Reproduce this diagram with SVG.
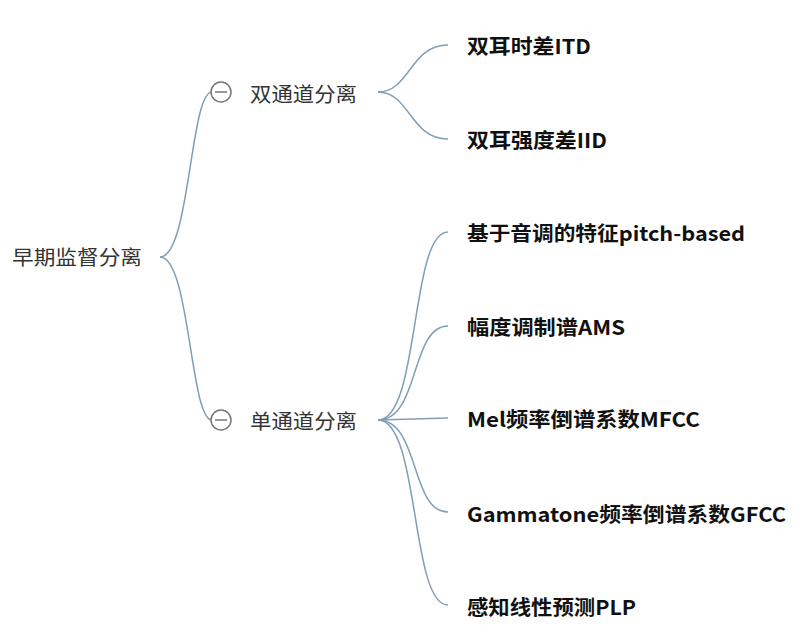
<svg xmlns="http://www.w3.org/2000/svg" width="803" height="638" viewBox="0 0 803 638">
<style>
.c{fill:none;stroke:#7f9fb9;stroke-width:1.5}
.t{font-family:"Noto Sans CJK SC","Noto Sans",sans-serif;font-size:20px;fill:#333}
.b{font-family:"Noto Sans CJK SC","Noto Sans",sans-serif;font-size:20px;font-weight:bold;fill:#111}
.k{fill:#fff;stroke:#777;stroke-width:1.5}
</style>
<rect width="803" height="638" fill="#fff"/>
<g id="connectors">
<path class="c" d="M160,257 C190,257 190,92 212,92"/>
<path class="c" d="M160,257 C190,257 190,420 212,420"/>
<path class="c" d="M378,92 C410,92 410,45 448,45"/>
<path class="c" d="M378,92 C410,92 410,139 448,139"/>
<path class="c" d="M378,420 C420,420 410,232 448,232"/>
<path class="c" d="M378,420 C420,420 410,326 448,326"/>
<path class="c" d="M378,420 L448,418"/>
<path class="c" d="M378,420 C420,420 410,512 448,512"/>
<path class="c" d="M378,420 C420,420 410,605 448,605"/>
</g>
<g id="root"><text class="t" x="12" y="265" textLength="130" lengthAdjust="spacingAndGlyphs">早期监督分离</text></g>
<g id="dual"><circle class="k" cx="221" cy="92" r="10"/><line x1="215" y1="92" x2="227" y2="92" stroke="#777" stroke-width="1.5"/><text class="t" x="250" y="102" textLength="107" lengthAdjust="spacingAndGlyphs">双通道分离</text></g>
<g id="single"><circle class="k" cx="221" cy="420" r="10"/><line x1="215" y1="420" x2="227" y2="420" stroke="#777" stroke-width="1.5"/><text class="t" x="250" y="429" textLength="107" lengthAdjust="spacingAndGlyphs">单通道分离</text></g>
<g id="itd"><text class="b" x="467" y="54" textLength="124" lengthAdjust="spacingAndGlyphs">双耳时差ITD</text></g>
<g id="iid"><text class="b" x="467" y="148" textLength="140" lengthAdjust="spacingAndGlyphs">双耳强度差IID</text></g>
<g id="pitch"><text class="b" x="467" y="241" textLength="278" lengthAdjust="spacingAndGlyphs">基于音调的特征pitch-based</text></g>
<g id="ams"><text class="b" x="467" y="335" textLength="158" lengthAdjust="spacingAndGlyphs">幅度调制谱AMS</text></g>
<g id="mfcc"><text class="b" x="467" y="427" textLength="233" lengthAdjust="spacingAndGlyphs">Mel频率倒谱系数MFCC</text></g>
<g id="gfcc"><text class="b" x="467" y="522" textLength="319" lengthAdjust="spacingAndGlyphs">Gammatone频率倒谱系数GFCC</text></g>
<g id="plp"><text class="b" x="467" y="615" textLength="169" lengthAdjust="spacingAndGlyphs">感知线性预测PLP</text></g>
</svg>
